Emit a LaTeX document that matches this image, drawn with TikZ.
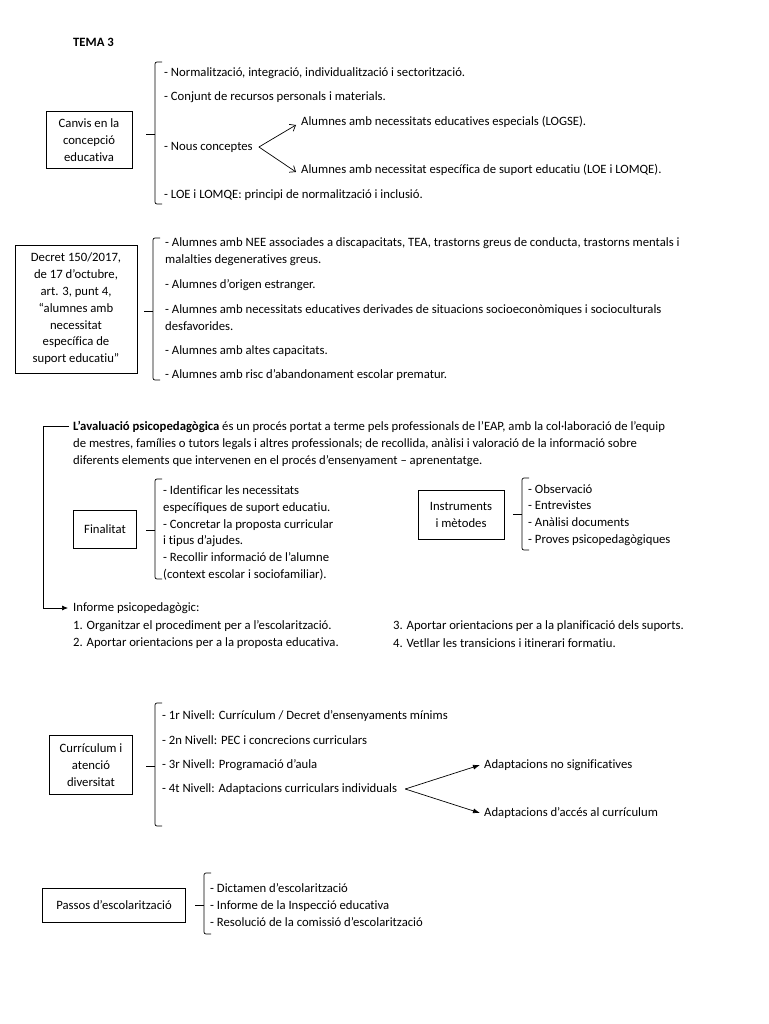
\documentclass[tikz,border=0pt]{standalone}
\usepackage{fontspec}
\setmainfont{Carlito}[Ligatures={NoCommon}]
\usetikzlibrary{arrows.meta,positioning}

\begin{document}
\begin{tikzpicture}[
    x=1pt, y=-1pt,
    txt/.style={anchor=west, inner sep=0pt, font=\fontsize{12.7}{16.8}\selectfont, align=left},
    box/.style={draw, line width=0.8pt, inner sep=2pt, align=center, font=\fontsize{12.7}{16.8}\selectfont},
    brace/.style={line width=0.7pt, rounded corners=2pt},
    arrow/.style={-{Stealth[length=7pt,width=6pt]}, line width=0.7pt},
    openarrow/.style={-{Straight Barb[length=5pt,width=8pt]}, line width=0.7pt},
]
    \useasboundingbox (0,0) rectangle (768,1024);

    % Title
    \node[txt, font=\fontsize{12.7}{16.8}\selectfont\bfseries] (tema) at (73,42) {TEMA 3};

    % Canvis en la concepcio educativa
    \node[box, minimum width=86pt, minimum height=57pt] (canvis) at (89,140) {Canvis en la\\concepció\\educativa};
    \coordinate (b1) at (155,134);
    \draw[brace] (162,62) -- (155,62) -- (155,204) -- (162,204);
    \draw[brace] (b1) -- ++(-9,0);
    \node[txt] (norm) at (164,73) {- Normalització, integració, individualització i sectorització.};
    \node[txt] (conj) at (164,97) {- Conjunt de recursos personals i materials.};
    \node[txt] (nous) at (164,147) {- Nous conceptes};
    \node[txt] (logse) at (301,122) {Alumnes amb necessitats educatives especials (LOGSE).};
    \node[txt] (lomqe) at (301,170) {Alumnes amb necessitat específica de suport educatiu (LOE i LOMQE).};
    \node[txt] (loe) at (164,195) {- LOE i LOMQE: principi de normalització i inclusió.};
    \draw[openarrow] ([xshift=6pt]nous.east) -- ([xshift=-5pt,yshift=-3pt]logse.west);
    \draw[openarrow] ([xshift=6pt]nous.east) -- ([xshift=-5pt,yshift=-2pt]lomqe.west);

    % Decret 150/2017
    \node[box, minimum width=122pt, minimum height=128pt] (decret) at (76,309) {Decret 150/2017,\\de 17 d’octubre,\\art. 3, punt 4,\\“alumnes amb\\necessitat\\específica de\\suport educatiu”};
    \coordinate (b2) at (153,311);
    \draw[brace] (160,238) -- (153,238) -- (153,380) -- (160,380);
    \draw[brace] (b2) -- ++(-9,0);
    \node[txt] (nee) at (165,252) {- Alumnes amb NEE associades a discapacitats, TEA, trastorns greus de conducta, trastorns mentals i\\malalties degeneratives greus.};
    \node[txt] (estr) at (165,285) {- Alumnes d’origen estranger.};
    \node[txt] (socio) at (165,318) {- Alumnes amb necessitats educatives derivades de situacions socioeconòmiques i socioculturals\\desfavorides.};
    \node[txt] (altes) at (165,351) {- Alumnes amb altes capacitats.};
    \node[txt] (risc) at (165,375) {- Alumnes amb risc d’abandonament escolar prematur.};

    % Avaluacio psicopedagogica
    \node[txt] (aval1) at (73,427) {\textbf{L’avaluació psicopedagògica} és un procés portat a terme pels professionals de l’EAP, amb la col·laboració de l’equip};
    \node[txt] (aval2) at (73,444) {de mestres, famílies o tutors legals i altres professionals; de recollida, anàlisi i valoració de la informació sobre};
    \node[txt] (aval3) at (73,461) {diferents elements que intervenen en el procés d’ensenyament – aprenentatge.};

    \node[box, minimum width=63pt, minimum height=38pt] (final) at (105,529) {Finalitat};
    \coordinate (b3) at (155,530);
    \draw[brace] (162,479) -- (155,479) -- (155,579) -- (162,579);
    \draw[brace] (b3) -- ++(-9,0);
    \node[txt] (ident) at (163,533) {- Identificar les necessitats\\específiques de suport educatiu.\\- Concretar la proposta curricular\\i tipus d’ajudes.\\- Recollir informació de l’alumne\\(context escolar i sociofamiliar).};

    \node[box, minimum width=86pt, minimum height=49pt] (instr) at (461,515) {Instruments\\i mètodes};
    \coordinate (b4) at (522,514);
    \draw[brace] (529,478) -- (522,478) -- (522,550) -- (529,550);
    \draw[brace] (b4) -- ++(-9,0);
    \node[txt] (metodes) at (528,515) {- Observació\\- Entrevistes\\- Anàlisi documents\\- Proves psicopedagògiques};

    \node[txt] (informe) at (73,608) {Informe psicopedagògic:};
    \node[txt] (orient1) at (73,626) {1. Organitzar el procediment per a l’escolarització.};
    \node[txt] (orient2) at (73,643) {2. Aportar orientacions per a la proposta educativa.};
    \node[txt] (orient3) at (393,626) {3. Aportar orientacions per a la planificació dels suports.};
    \node[txt] (orient4) at (393,643) {4. Vetllar les transicions i itinerari formatiu.};
    \draw[arrow, -{Latex[length=6pt,width=5pt]}] ([xshift=-4pt,yshift=1pt]aval1.west) -- ++(-26,0) |- ([xshift=-5pt]informe.west);

    % Curriculum i atencio diversitat
    \node[box, minimum width=83pt, minimum height=59pt] (curr) at (91,765) {Currículum i\\atenció\\diversitat};
    \coordinate (b5) at (155,766);
    \draw[brace] (162,703) -- (155,703) -- (155,826) -- (162,826);
    \draw[brace] (b5) -- ++(-9,0);
    \node[txt] (niv1) at (162,716) {- 1r Nivell: Currículum / Decret d’ensenyaments mínims};
    \node[txt] (niv2) at (162,740) {- 2n Nivell: PEC i concrecions curriculars};
    \node[txt] (niv3) at (162,765) {- 3r Nivell: Programació d’aula};
    \node[txt] (niv4) at (162,789) {- 4t Nivell: Adaptacions curriculars individuals};
    \node[txt] (nosig) at (484,765) {Adaptacions no significatives};
    \node[txt] (acces) at (484,813) {Adaptacions d’accés al currículum};
    \draw[arrow, -{Latex[length=7pt,width=5pt]}] ([xshift=8pt]niv4.east) -- ([xshift=-4pt]nosig.west);
    \draw[arrow, -{Latex[length=7pt,width=5pt]}] ([xshift=8pt]niv4.east) -- ([xshift=-4pt]acces.west);

    % Passos d'escolaritzacio
    \node[box, minimum width=143pt, minimum height=34pt] (passos) at (114,905) {Passos d’escolarització};
    \coordinate (b6) at (204,905);
    \draw[brace] (211,873) -- (204,873) -- (204,934) -- (211,934);
    \draw[brace] (b6) -- ++(-9,0);
    \node[txt, font=\fontsize{12.7}{17}\selectfont] (dictamen) at (210,905) {- Dictamen d’escolarització\\- Informe de la Inspecció educativa\\- Resolució de la comissió d’escolarització};
\end{tikzpicture}
\end{document}
